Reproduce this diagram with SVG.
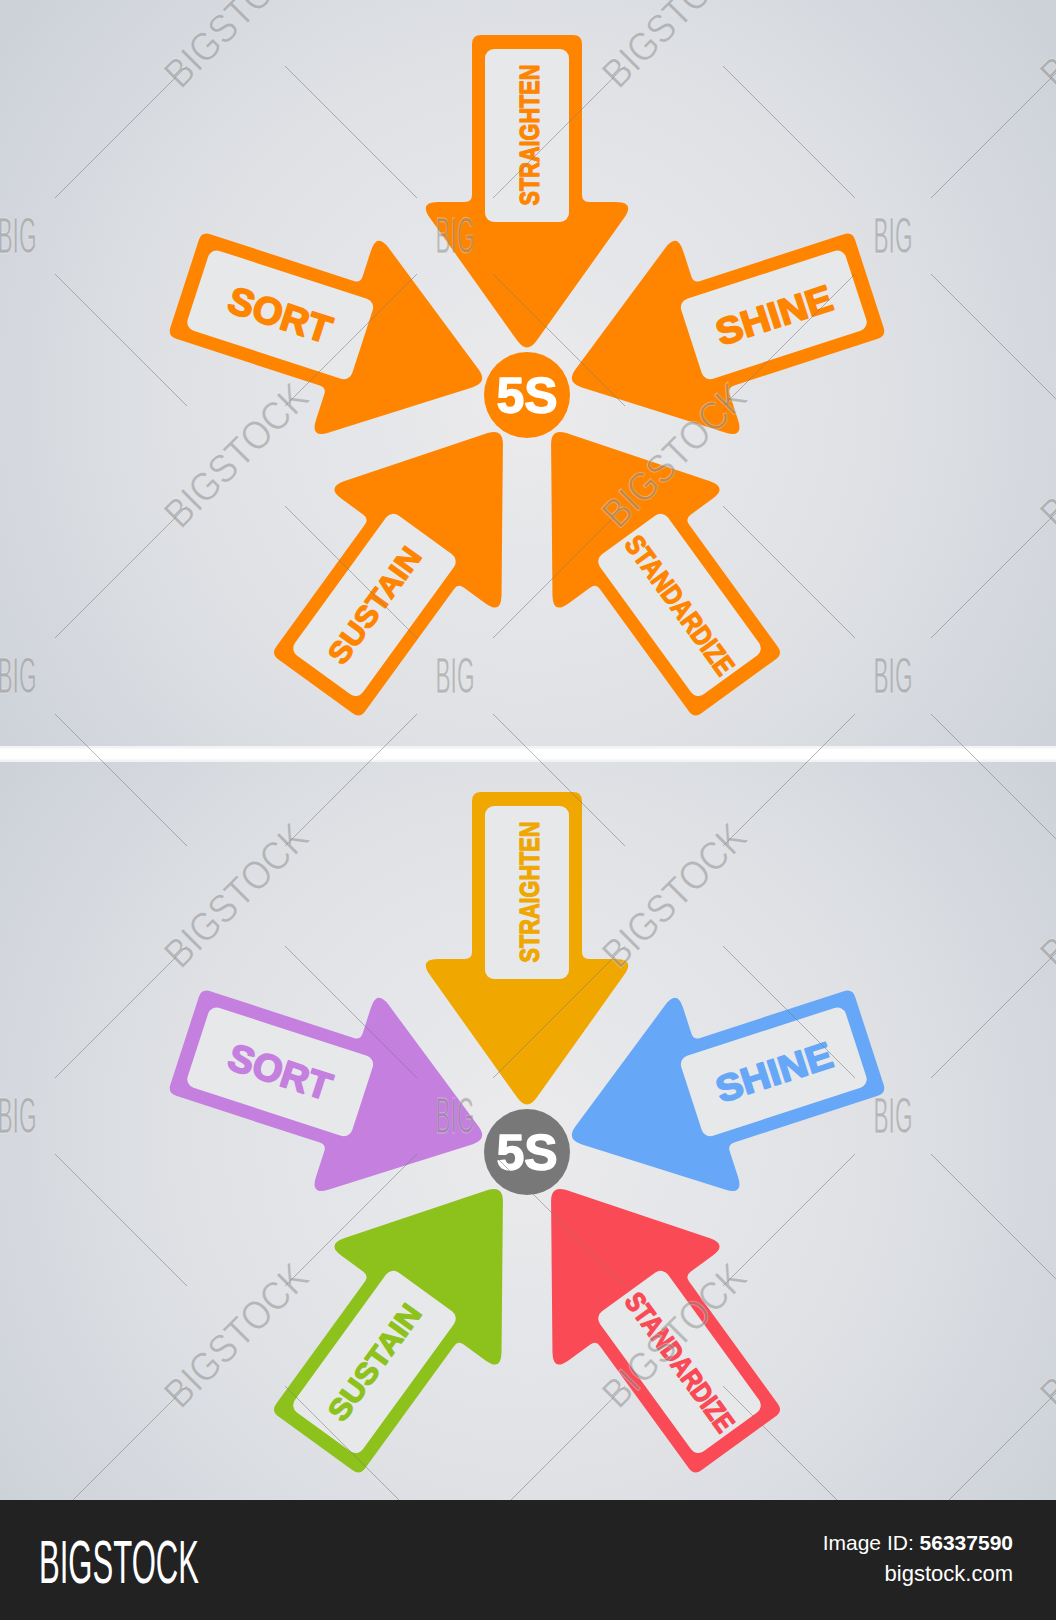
<svg xmlns="http://www.w3.org/2000/svg" width="1056" height="1620" viewBox="0 0 1056 1620">
  <style>
    .lbl { fill: #e7e8ea; }
    .t { font-family: "Liberation Sans", Arial, sans-serif; font-weight: bold; text-anchor: middle; stroke-width: 1.3; stroke-linejoin: round; }
    .tw { stroke-width: 1.8; }
    .c5 { font-family: "Liberation Sans", Arial, sans-serif; font-weight: bold; font-size: 50px; fill: #ffffff; stroke: #ffffff; stroke-width: 1.4; stroke-linejoin: round; text-anchor: middle; }
    .wm { font-family: "Liberation Sans", Arial, sans-serif; fill: #8a8a8a; fill-opacity: 0.5; stroke: #ffffff; stroke-opacity: 0.35; stroke-width: 0.8; text-anchor: middle; }
    .wl { stroke: #7a7a7a; stroke-opacity: 0.55; stroke-width: 1; fill: none; }
    .ft { font-family: "Liberation Sans", Arial, sans-serif; fill: #ffffff; }
  </style>
  <defs>
    <radialGradient id="bgTop" gradientUnits="userSpaceOnUse" cx="527" cy="400" r="640">
      <stop offset="0" stop-color="#ebebed"/>
      <stop offset="0.55" stop-color="#dfe1e5"/>
      <stop offset="1" stop-color="#cdd2d9"/>
    </radialGradient>
    <radialGradient id="bgBot" gradientUnits="userSpaceOnUse" cx="527" cy="1140" r="640">
      <stop offset="0" stop-color="#ebebed"/>
      <stop offset="0.55" stop-color="#dfe1e5"/>
      <stop offset="1" stop-color="#cdd2d9"/>
    </radialGradient>
    <path id="arrow" d="M -55,-351 Q -55,-360 -46,-360 L 46,-360 Q 55,-360 55,-351 L 55,-200 Q 55,-193 62,-193 L 89,-193 Q 108,-193 97.4,-177.4 L 9.4,-53.9 Q 0,-41 -9.4,-53.9 L -97.4,-177.4 Q -108,-193 -89,-193 L -62,-193 Q -55,-193 -55,-200 Z"/>
    <rect id="label" x="-42" y="-346" width="84" height="173" rx="9" ry="9"/>
  </defs>

  <!-- backgrounds -->
  <rect x="0" y="0" width="1056" height="749" fill="url(#bgTop)"/>
  <rect x="0" y="759" width="1056" height="741" fill="url(#bgBot)"/>
  <rect x="0" y="746" width="1056" height="16" fill="#f2f3f5"/>
  <rect x="0" y="748.5" width="1056" height="11" fill="#ffffff"/>

  <!-- top diagram (orange) -->
  <g id="top-straighten">
    <use href="#arrow" transform="translate(527,395)" fill="#ff8500"/>
    <use href="#label" class="lbl" transform="translate(527,395)"/>
    <text class="t" transform="translate(529,135) rotate(-90)" y="10" font-size="28" textLength="141" lengthAdjust="spacingAndGlyphs" fill="#ff8500" stroke="#ff8500">STRAIGHTEN</text>
  </g>
  <g id="top-shine">
    <use href="#arrow" transform="translate(527,395) rotate(72)" fill="#ff8500"/>
    <use href="#label" class="lbl" transform="translate(527,395) rotate(72)"/>
    <text class="t tw" transform="translate(774,315) rotate(-18)" y="13" font-size="37" textLength="120" lengthAdjust="spacingAndGlyphs" fill="#ff8500" stroke="#ff8500">SHINE</text>
  </g>
  <g id="top-standardize">
    <use href="#arrow" transform="translate(527,395) rotate(144)" fill="#ff8500"/>
    <use href="#label" class="lbl" transform="translate(527,395) rotate(144)"/>
    <text class="t" transform="translate(680,605) rotate(54)" y="10" font-size="28" textLength="165" lengthAdjust="spacingAndGlyphs" fill="#ff8500" stroke="#ff8500">STANDARDIZE</text>
  </g>
  <g id="top-sustain">
    <use href="#arrow" transform="translate(527,395) rotate(216)" fill="#ff8500"/>
    <use href="#label" class="lbl" transform="translate(527,395) rotate(216)"/>
    <text class="t" transform="translate(374,605) rotate(-54)" y="11" font-size="30" textLength="136" lengthAdjust="spacingAndGlyphs" fill="#ff8500" stroke="#ff8500">SUSTAIN</text>
  </g>
  <g id="top-sort">
    <use href="#arrow" transform="translate(527,395) rotate(288)" fill="#ff8500"/>
    <use href="#label" class="lbl" transform="translate(527,395) rotate(288)"/>
    <text class="t tw" transform="translate(280,315) rotate(18)" y="13" font-size="38" textLength="106" lengthAdjust="spacingAndGlyphs" fill="#ff8500" stroke="#ff8500">SORT</text>
  </g>
  <g id="top-5s">
    <circle cx="527" cy="395" r="43" fill="#ff8500"/>
    <text class="c5" x="527" y="413">5S</text>
  </g>

  <!-- bottom diagram (coloured) -->
  <g id="bottom-straighten">
    <use href="#arrow" transform="translate(527,1152)" fill="#f0a700"/>
    <use href="#label" class="lbl" transform="translate(527,1152)"/>
    <text class="t" transform="translate(529,892) rotate(-90)" y="10" font-size="28" textLength="141" lengthAdjust="spacingAndGlyphs" fill="#f0a700" stroke="#f0a700">STRAIGHTEN</text>
  </g>
  <g id="bottom-shine">
    <use href="#arrow" transform="translate(527,1152) rotate(72)" fill="#66a7f7"/>
    <use href="#label" class="lbl" transform="translate(527,1152) rotate(72)"/>
    <text class="t tw" transform="translate(774,1072) rotate(-18)" y="13" font-size="37" textLength="120" lengthAdjust="spacingAndGlyphs" fill="#66a7f7" stroke="#66a7f7">SHINE</text>
  </g>
  <g id="bottom-standardize">
    <use href="#arrow" transform="translate(527,1152) rotate(144)" fill="#fa4a55"/>
    <use href="#label" class="lbl" transform="translate(527,1152) rotate(144)"/>
    <text class="t" transform="translate(680,1362) rotate(54)" y="10" font-size="28" textLength="165" lengthAdjust="spacingAndGlyphs" fill="#fa4a55" stroke="#fa4a55">STANDARDIZE</text>
  </g>
  <g id="bottom-sustain">
    <use href="#arrow" transform="translate(527,1152) rotate(216)" fill="#8dc21c"/>
    <use href="#label" class="lbl" transform="translate(527,1152) rotate(216)"/>
    <text class="t" transform="translate(374,1362) rotate(-54)" y="11" font-size="30" textLength="136" lengthAdjust="spacingAndGlyphs" fill="#8dc21c" stroke="#8dc21c">SUSTAIN</text>
  </g>
  <g id="bottom-sort">
    <use href="#arrow" transform="translate(527,1152) rotate(288)" fill="#c47fdf"/>
    <use href="#label" class="lbl" transform="translate(527,1152) rotate(288)"/>
    <text class="t tw" transform="translate(280,1072) rotate(18)" y="13" font-size="38" textLength="106" lengthAdjust="spacingAndGlyphs" fill="#c47fdf" stroke="#c47fdf">SORT</text>
  </g>
  <g id="bottom-5s">
    <circle cx="527" cy="1152" r="43" fill="#787878"/>
    <text class="c5" x="527" y="1170">5S</text>
  </g>

  <!-- watermark lattice lines -->
  <g id="watermark-lines" class="wl">
    <path d="M55,198 L187,66 M55,274 L187,406 M-21,198 L-153,66 M-21,274 L-153,406"/>
    <path d="M493,198 L625,66 M493,274 L625,406 M417,198 L285,66 M417,274 L285,406"/>
    <path d="M931,198 L1063,66 M931,274 L1063,406 M855,198 L723,66 M855,274 L723,406"/>
    <path d="M55,638 L187,506 M55,714 L187,846 M-21,638 L-153,506 M-21,714 L-153,846"/>
    <path d="M493,638 L625,506 M493,714 L625,846 M417,638 L285,506 M417,714 L285,846"/>
    <path d="M931,638 L1063,506 M931,714 L1063,846 M855,638 L723,506 M855,714 L723,846"/>
    <path d="M55,1078 L187,946 M55,1154 L187,1286 M-21,1078 L-153,946 M-21,1154 L-153,1286"/>
    <path d="M493,1078 L625,946 M493,1154 L625,1286 M417,1078 L285,946 M417,1154 L285,1286"/>
    <path d="M931,1078 L1063,946 M931,1154 L1063,1286 M855,1078 L723,946 M855,1154 L723,1286"/>
    <path d="M55,1518 L187,1386 M417,1518 L285,1386 M493,1518 L625,1386 M855,1518 L723,1386 M931,1518 L1063,1386"/>
  </g>

  <!-- watermark texts -->
  <g id="watermark-text">
    <text class="wm" x="17" y="253" font-size="50" textLength="39" lengthAdjust="spacingAndGlyphs">BIG</text>
    <text class="wm" x="455" y="253" font-size="50" textLength="39" lengthAdjust="spacingAndGlyphs">BIG</text>
    <text class="wm" x="893" y="253" font-size="50" textLength="39" lengthAdjust="spacingAndGlyphs">BIG</text>
    <text class="wm" x="17" y="693" font-size="50" textLength="39" lengthAdjust="spacingAndGlyphs">BIG</text>
    <text class="wm" x="455" y="693" font-size="50" textLength="39" lengthAdjust="spacingAndGlyphs">BIG</text>
    <text class="wm" x="893" y="693" font-size="50" textLength="39" lengthAdjust="spacingAndGlyphs">BIG</text>
    <text class="wm" x="17" y="1133" font-size="50" textLength="39" lengthAdjust="spacingAndGlyphs">BIG</text>
    <text class="wm" x="455" y="1133" font-size="50" textLength="39" lengthAdjust="spacingAndGlyphs">BIG</text>
    <text class="wm" x="893" y="1133" font-size="50" textLength="39" lengthAdjust="spacingAndGlyphs">BIG</text>
    <text class="wm" transform="translate(236,15) rotate(-45)" y="14" font-size="40" textLength="184" lengthAdjust="spacingAndGlyphs">BIGSTOCK</text>
    <text class="wm" transform="translate(674,15) rotate(-45)" y="14" font-size="40" textLength="184" lengthAdjust="spacingAndGlyphs">BIGSTOCK</text>
    <text class="wm" transform="translate(1112,15) rotate(-45)" y="14" font-size="40" textLength="184" lengthAdjust="spacingAndGlyphs">BIGSTOCK</text>
    <text class="wm" transform="translate(236,455) rotate(-45)" y="14" font-size="40" textLength="184" lengthAdjust="spacingAndGlyphs">BIGSTOCK</text>
    <text class="wm" transform="translate(674,455) rotate(-45)" y="14" font-size="40" textLength="184" lengthAdjust="spacingAndGlyphs">BIGSTOCK</text>
    <text class="wm" transform="translate(1112,455) rotate(-45)" y="14" font-size="40" textLength="184" lengthAdjust="spacingAndGlyphs">BIGSTOCK</text>
    <text class="wm" transform="translate(236,895) rotate(-45)" y="14" font-size="40" textLength="184" lengthAdjust="spacingAndGlyphs">BIGSTOCK</text>
    <text class="wm" transform="translate(674,895) rotate(-45)" y="14" font-size="40" textLength="184" lengthAdjust="spacingAndGlyphs">BIGSTOCK</text>
    <text class="wm" transform="translate(1112,895) rotate(-45)" y="14" font-size="40" textLength="184" lengthAdjust="spacingAndGlyphs">BIGSTOCK</text>
    <text class="wm" transform="translate(236,1335) rotate(-45)" y="14" font-size="40" textLength="184" lengthAdjust="spacingAndGlyphs">BIGSTOCK</text>
    <text class="wm" transform="translate(674,1335) rotate(-45)" y="14" font-size="40" textLength="184" lengthAdjust="spacingAndGlyphs">BIGSTOCK</text>
    <text class="wm" transform="translate(1112,1335) rotate(-45)" y="14" font-size="40" textLength="184" lengthAdjust="spacingAndGlyphs">BIGSTOCK</text>
  </g>

  <!-- footer -->
  <g id="footer">
    <rect x="0" y="1500" width="1056" height="120" fill="#222222"/>
    <text class="ft" x="39" y="1583" font-size="62" textLength="160" lengthAdjust="spacingAndGlyphs">BIGSTOCK</text>
    <text class="ft" x="1013" y="1550" font-size="21" text-anchor="end">Image ID: <tspan font-weight="bold">56337590</tspan></text>
    <text class="ft" x="1013" y="1581" font-size="22" text-anchor="end">bigstock.com</text>
  </g>
</svg>
